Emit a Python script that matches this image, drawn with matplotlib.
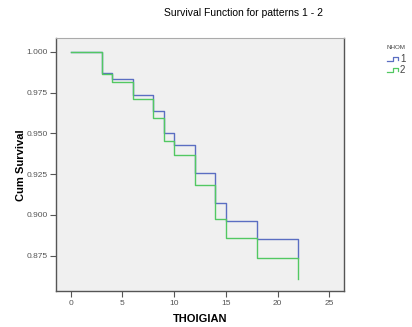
import numpy as np
import matplotlib
matplotlib.use("Agg")
import matplotlib.pyplot as plt
from matplotlib.lines import Line2D
from matplotlib.legend_handler import HandlerBase

plt.rcParams['font.family'] = ['Liberation Sans', 'DejaVu Sans']

# %% ---------------------------------
#           survival steps per group
# ------------------------------------
groups = ['1', '2']
times = [0, 3, 4, 6, 8, 9, 10, 12, 14, 15, 18, 22]
surv_1 = [1.000, 0.9873, 0.9832, 0.9738, 0.9635, 0.9505, 0.9427, 0.9257, 0.9072, 0.8965, 0.8851, 0.8736]
surv_2 = [1.000, 0.9863, 0.9815, 0.9711, 0.9596, 0.9456, 0.9368, 0.9183, 0.8976, 0.8861, 0.8736, 0.8605]
colors = ['#5b6ec2', '#52c862']

x_ticks = [0, 5, 10, 15, 20, 25]
y_ticks = [0.875, 0.900, 0.925, 0.950, 0.975, 1.000]


class StepHandler(HandlerBase):
    # little step glyph for the legend entries
    def create_artists(self, legend, orig_handle, xdescent, ydescent,
                       width, height, fontsize, trans):
        xs = [0, 0.55 * width, 0.55 * width, width, width]
        ys = [0.2 * height, 0.2 * height, 0.8 * height, 0.8 * height, 0.35 * height]
        ln = Line2D(xs, ys, color=orig_handle.get_color(), lw=0.9)
        ln.set_transform(trans)
        return [ln]


fig = plt.figure(figsize=(4.12, 3.27), dpi=100)
ax = fig.add_axes([0.1359, 0.1086, 0.6998, 0.7743])
ax.set_facecolor('#f0f0f0')

handles = []
for lab, surv, col in zip(groups, [surv_1, surv_2], colors):
    line, = ax.step(times, surv, where='post', color=col, lw=1.0)
    handles.append(line)

ax.set_xlim(-1.42, 26.46)
ax.set_ylim(0.853, 1.0084)
ax.set_xticks(x_ticks)
ax.set_yticks(y_ticks)
ax.set_yticklabels([f"{v:.3f}" for v in y_ticks])
ax.tick_params(axis='both', labelsize=6, labelcolor='#555555', color='#555555',
               length=4, width=0.8, direction='out', pad=2)

for side in ['left', 'bottom', 'right']:
    ax.spines[side].set_color('#555555')
    ax.spines[side].set_linewidth(1.0)
ax.spines['top'].set_color('#aaaaaa')

ax.set_xlabel('THOIGIAN', fontsize=8, fontweight='bold', labelpad=5)
ax.set_ylabel('Cum Survival', fontsize=8, fontweight='bold')
ax.yaxis.set_label_coords(-0.104, 0.5)

fig.text(244 / 412, 1 - 13 / 327, 'Survival Function for patterns 1 - 2',
         fontsize=7.5, ha='center', va='center')

leg = fig.legend(handles, groups, title='NHOM', loc='upper left',
                 bbox_to_anchor=(380 / 412, 1 - 38 / 327),
                 handler_map={Line2D: StepHandler()},
                 frameon=False, fontsize=7, title_fontsize=4.5,
                 handlelength=1.1, handletextpad=0.2, labelspacing=0.1,
                 borderpad=0.2)
leg._legend_box.sep = 3
for t in leg.get_texts():
    t.set_color('#444444')
leg.get_title().set_color('#444444')

fig.savefig('out.png', dpi=100)
